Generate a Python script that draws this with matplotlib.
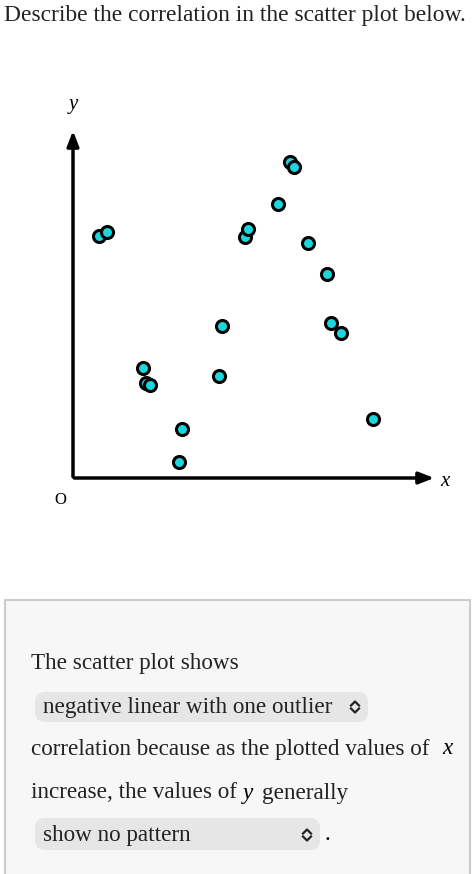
import matplotlib
matplotlib.use("Agg")
import matplotlib.pyplot as plt
from matplotlib.patches import FancyBboxPatch, Rectangle

xs = [26, 34, 70, 73, 77, 109, 106, 146, 149, 172, 175, 205, 217, 221, 235, 254, 258, 268, 300]
ys = [242, 246, 110, 95, 93, 49, 16, 102, 152, 241, 249, 274, 316, 311, 235, 204, 155, 145, 59]

fig = plt.figure(figsize=(4.72, 8.74), dpi=100)
ax = fig.add_axes([0, 0, 1, 1])
ax.set_xlim(0, 472); ax.set_ylim(874, 0); ax.axis("off")
serif = ["Liberation Serif", "DejaVu Serif"]
fs = 16.7

ax.text(4, 16, "Describe the correlation in the scatter plot below.", fontsize=16.9,
        family=serif, color="#222222", va="center")

ox, oy = 73, 478
ax.annotate("", xy=(ox, 128), xytext=(ox, oy + 1.5),
            arrowprops=dict(arrowstyle="-|>,head_length=0.9,head_width=0.35", lw=2.5, color="black"))
ax.annotate("", xy=(437, oy), xytext=(ox - 1.5, oy),
            arrowprops=dict(arrowstyle="-|>,head_length=0.9,head_width=0.35", lw=2.5, color="black"))
ax.text(ox, 104, "y", fontsize=15, style="italic", family=serif, ha="center", va="center")
ax.text(445, 482, "x", fontsize=15, style="italic", family=serif, ha="center", va="center")
ax.text(60, 500, "O", fontsize=12, family=serif, ha="center", va="center")

px = [ox + x for x in xs]
py = [oy - y for y in ys]
ax.scatter(px, py, s=75, c="#1ad7df", edgecolors="black", linewidths=2.2, zorder=5)

def chevron(x, y):
    ax.plot([x - 4, x, x + 4], [y - 1.5, y - 5.5, y - 1.5], color="#222222", lw=1.6)
    ax.plot([x - 4, x, x + 4], [y + 1.5, y + 5.5, y + 1.5], color="#222222", lw=1.6)

ax.add_patch(Rectangle((5, 600), 465, 290, facecolor="#f7f7f7", edgecolor="#cccccc", lw=1.5))
ax.text(31, 664, "The scatter plot shows", fontsize=fs, family=serif, va="center", color="#222222")
ax.add_patch(FancyBboxPatch((35, 692), 333, 30, boxstyle="round,pad=0,rounding_size=10",
                            facecolor="#e6e6e6", edgecolor="none"))
ax.text(43, 707, "negative linear with one outlier", fontsize=fs, family=serif, va="center", color="#222222")
chevron(355, 707)
ax.text(31, 750, "correlation because as the plotted values of", fontsize=fs, family=serif, va="center", color="#222222")
ax.text(442, 749, "x", fontsize=fs, style="italic", family=serif, va="center")
ax.text(31, 793, "increase, the values of", fontsize=fs, family=serif, va="center", color="#222222")
ax.text(243, 793, "y", fontsize=fs, style="italic", family=serif, va="center")
ax.text(262, 793, "generally", fontsize=fs, family=serif, va="center", color="#222222")
ax.add_patch(FancyBboxPatch((35, 818), 285, 32, boxstyle="round,pad=0,rounding_size=10",
                            facecolor="#e6e6e6", edgecolor="none"))
ax.text(43, 835, "show no pattern", fontsize=fs, family=serif, va="center", color="#222222")
chevron(307, 835)
ax.text(324, 835, ".", fontsize=fs, family=serif, va="center")

fig.savefig("out.png", dpi=100)
